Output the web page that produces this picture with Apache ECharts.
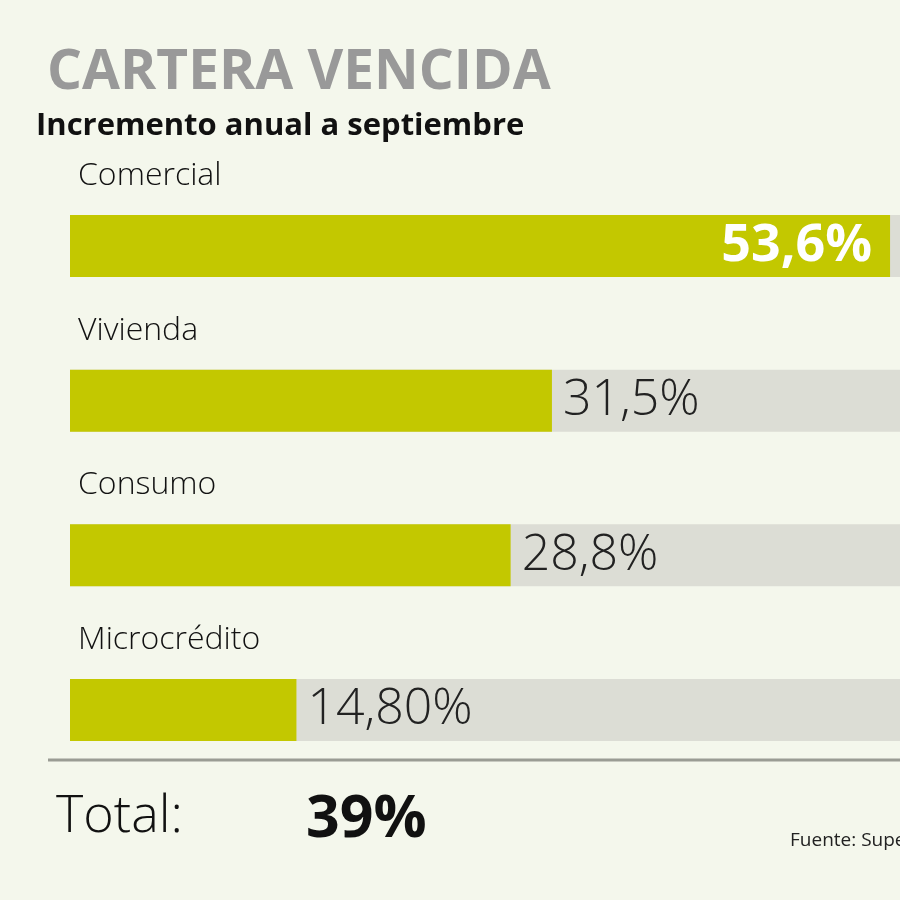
<!DOCTYPE html>
<html><head><meta charset="utf-8">
<script src="https://cdn.jsdelivr.net/npm/echarts@6/dist/echarts.min.js"></script>
<style>html,body{margin:0;padding:0;background:#f4f7ec;}#c{width:900px;height:900px;}</style>
</head><body><div id="c"></div>
<script>
const categories = ['Comercial', 'Vivienda', 'Consumo', 'Microcrédito'];
const values = [53.6, 31.5, 28.8, 14.8];
const valueLabels = ['53,6%', '31,5%', '28,8%', '14,80%'];
const titleText = 'CARTERA VENCIDA';
const subtitleText = 'Incremento anual a septiembre';
const totalLabel = 'Total:';
const totalValue = '39%';
const sourceText = 'Fuente: Superintendencia Financiera';

const chart = echarts.init(document.getElementById('c'));
const F = "'Open Sans', sans-serif";
chart.setOption({
  backgroundColor: '#f4f7ec',
  animation: false,
  title: [
    {text: titleText, left: 42, top: 41, textStyle: {fontFamily: F, fontWeight: 'bold', fontSize: 55, color: '#999999'}},
    {text: subtitleText, left: 31, top: 106, textStyle: {fontFamily: F, fontWeight: 'bold', fontSize: 31, color: '#111111'}},
    {text: totalLabel, left: 51, top: 786, textStyle: {fontFamily: F, fontWeight: 300, fontSize: 52, color: '#111111'}},
    {text: totalValue, left: 301, top: 786, textStyle: {fontFamily: F, fontWeight: 'bold', fontSize: 59, color: '#111111'}},
    {text: sourceText, left: 785, top: 826, textStyle: {fontFamily: F, fontWeight: 'normal', fontSize: 19, color: '#222222'}}
  ],
  graphic: [{type: 'line', shape: {x1: 48, y1: 760, x2: 900, y2: 760}, style: {stroke: '#9a9c94', lineWidth: 3}}],
  grid: {left: 70, right: 0, top: 168.7, bottom: 112.7, containLabel: false},
  xAxis: {type: 'value', min: 0, max: 54.25, show: false},
  yAxis: {
    type: 'category', data: categories, inverse: true,
    axisLine: {show: false}, axisTick: {show: false},
    axisLabel: {inside: true, margin: 8, align: 'left', verticalAlign: 'bottom', padding: [0, 0, 54, 0],
      fontFamily: F, fontWeight: 300, fontSize: 32, color: '#111111'}
  },
  series: [{
    type: 'bar', data: values.map((v, i) => ({
      value: v,
      label: i === 0
        ? {position: 'insideRight', distance: 18, color: '#ffffff', fontWeight: 'bold', fontSize: 52}
        : {position: 'right', distance: 11, color: '#222222', fontWeight: 300, fontSize: 50}
    })),
    barWidth: 62,
    itemStyle: {color: '#c3c800'},
    showBackground: true,
    backgroundStyle: {color: '#dcddd5'},
    label: {show: true, fontFamily: F, formatter: p => valueLabels[p.dataIndex]}
  }]
});
</script></body></html>
